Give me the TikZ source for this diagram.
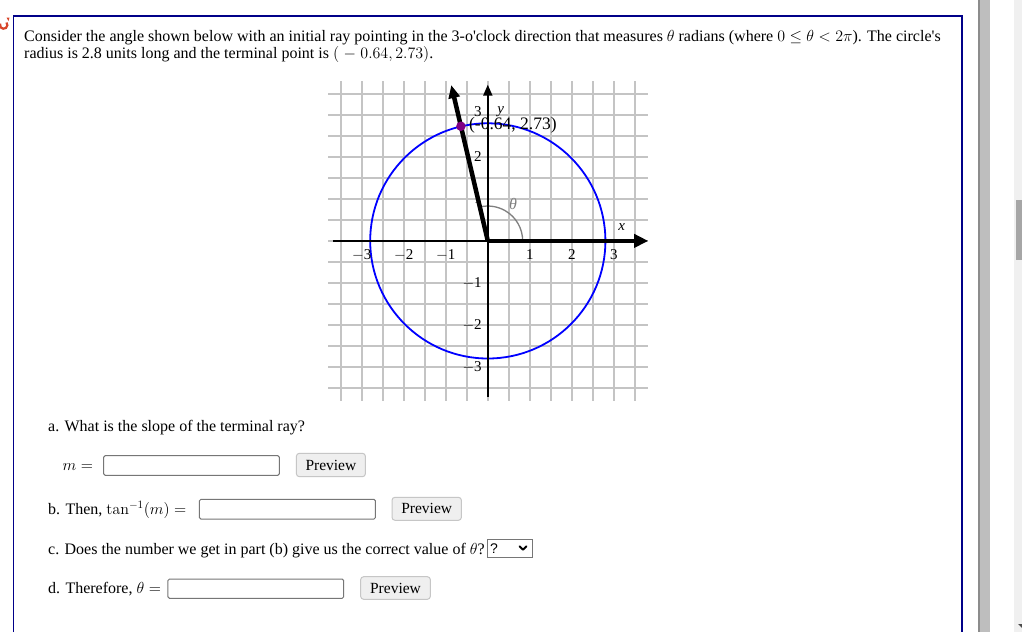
\RequirePackage{fix-cm}
\documentclass[tikz,border=0pt]{standalone}
\usepackage[no-math]{fontspec}
\setmainfont{Liberation Serif}[Ligatures=TeXOff]
\newfontfamily\uisans{Liberation Sans}
\usetikzlibrary{arrows.meta}
\definecolor{framecol}{HTML}{000088}
\definecolor{gridcol}{HTML}{C4C4C4}
\definecolor{circblue}{HTML}{0000FF}
\definecolor{ptpurple}{HTML}{800080}
\definecolor{btnfill}{HTML}{EFEFEF}
\definecolor{btnborder}{HTML}{C6C6C6}
\definecolor{boxborder}{HTML}{767676}
\definecolor{scrollgray}{HTML}{BEBEBE}
\definecolor{scrolledge}{HTML}{8C8C8C}
\definecolor{scrollbg}{HTML}{F0F0F0}
\definecolor{thumbgray}{HTML}{A6A6A6}
\definecolor{anglegray}{HTML}{7F7F7F}
\definecolor{iconred}{HTML}{D8452A}
\tikzset{
  bodytext/.style={anchor=base west, inner sep=0pt, font=\fontsize{16}{19}\selectfont},
  gridline/.style={draw=gridcol, line width=1.6pt},
  ticklab/.style={inner sep=0pt, font=\fontsize{15}{15}\selectfont},
  axislab/.style={inner sep=0pt, font=\fontsize{15}{15}\selectfont\itshape},
  inputbox/.style={draw=boxborder, fill=white, line width=1pt, rounded corners=1.5pt, inner sep=0pt},
  previewbtn/.style={draw=btnborder, fill=btnfill, line width=1pt, rounded corners=3pt, inner sep=0pt, font=\fontsize{15.5}{16}\selectfont},
  thickray/.style={line width=4.5pt, -{Triangle[length=14pt,width=13pt]}},
  thinaxis/.style={line width=1.8pt},
}
\begin{document}
\begin{tikzpicture}[x=1pt,y=-1pt]
\useasboundingbox (0,0) rectangle (1022,632);
\fill[white] (0,0) rectangle (1022,632);
% window chrome
\fill[scrollgray] (978,0) rectangle (990,632);
\fill[scrolledge] (978,0) rectangle (979.5,632);
\fill[scrollbg] (1014,0) rectangle (1022,632);
\fill[thumbgray] (1016,200) rectangle (1022,260);
\fill[black!70] (1018,624) -- (1022,624) -- (1022,628) -- cycle;
\draw[iconred, line width=2.2pt] (6.5,22.5) arc[start angle=-40, end angle=200, radius=3.8];
\fill[iconred] (6.5,17.5) -- (9.5,17.5) -- (8.5,21) -- cycle;
% frame
\draw[framecol, line width=1.3pt] (13.5,632) -- (13.5,16) -- (962,16) -- (962,632);
% intro text
\node[bodytext] (line1) at (24,41) {Consider the angle shown below with an initial ray pointing in the 3-o'clock direction that measures $\theta$ radians (where $0\le\theta<2\pi$). The circle's};
\node[bodytext] (line2) at (24,58) {radius is 2.8 units long and the terminal point is $(\;-\;0.64, 2.73)$.};
% graph
\begin{scope}[shift={(487.8,240.9)}, x=42pt, y=42pt]
  \foreach \k in {-7,...,7} {
    \draw[gridline] (\k*0.5,-3.8) -- (\k*0.5,3.8);
    \draw[gridline] (-3.8,\k*0.5) -- (3.82,\k*0.5);
  }
  \coordinate (O) at (0,0);
  \coordinate (xneg) at (-3.69,0);
  \coordinate (xpos) at (3.82,0);
  \coordinate (yneg) at (0,-3.71);
  \coordinate (ypos) at (0,3.72);
  \coordinate (tend) at (-0.870,3.710);
  \coordinate (arcstart) at (0.83,0);
  \draw[circblue, line width=1.8pt] (O) circle[radius=2.8];
  \draw[anglegray, line width=1.3pt] (arcstart) arc[start angle=0, end angle=103.2, radius=0.83];
  % tick labels
  \foreach \v/\t in {-3/$-$3,-2/$-$2,-1/$-$1,1/1,2/2,3/3}
    \node[ticklab, anchor=north] (xl\v) at (\v,-0.2) {\t};
  \foreach \v/\t in {-3/$-$3,-2/$-$2,-1/$-$1,1/1,2/2}
    \node[ticklab, anchor=east] (yl\v) at (-0.14,\v) {\t};
  \node[ticklab, anchor=east] (yl3) at (-0.14,3.08) {3};
  \node[axislab] (xlab) at (3.19,0.33) {x};
  \node[axislab] (ylab) at (0.31,3.07) {y};
  \node[axislab, text=anglegray, font=\fontsize{16}{16}\selectfont\itshape] (thlab) at (0.6,0.88) {θ};
  % axes and rays
  \draw[thinaxis] (xneg) -- (O);
  \draw[thinaxis, -{Triangle[length=11pt,width=9pt]}] (yneg) -- (ypos);
  \draw[thickray] (O) -- (xpos);
  \draw[thickray, -{Triangle[length=13pt,width=11pt]}] (O) -- (tend);
  \node[circle, fill=ptpurple, inner sep=0pt, minimum size=9.5pt] (P) at (-0.64,2.73) {};
  \node[inner sep=0pt, anchor=west, font=\fontsize{17.5}{17.5}\selectfont] (plab) at (-0.45,2.75) {(-0.64, 2.73)};
\end{scope}
% questions
\node[bodytext] (qa) at (48,431.7) {a. What is the slope of the terminal ray?};
\node[bodytext] (qm) at (62.5,470.5) {$m =$};
\node[inputbox, minimum width=175.7pt, minimum height=19.6pt] (boxA) at (191.5,465.5) {};
\node[previewbtn, minimum width=69pt, minimum height=23.4pt] (btnA) at (330.9,465) {Preview};
\node[bodytext] (qb) at (48,514) {b. Then, $\tan^{-1}(m) =$};
\node[inputbox, minimum width=176pt, minimum height=19.7pt] (boxB) at (287.4,509.2) {};
\node[previewbtn, minimum width=69.4pt, minimum height=23pt] (btnB) at (426.7,508.8) {Preview};
\node[bodytext] (qc) at (48,554) {c. Does the number we get in part (b) give us the correct value of $\theta$?};
\node[draw=boxborder, line width=1pt, minimum width=44.5pt, minimum height=18pt, inner sep=0pt] (sel) at (509.8,548.3) {};
\node[inner sep=0pt, anchor=west, font=\uisans\fontsize{14}{14}\selectfont] (selq) at (490,548.3) {?};
\draw[line width=1.9pt, line cap=round, line join=round] (519.5,546.3) -- (523,549.8) -- (526.5,546.3);
\node[bodytext] (qd) at (48,593.7) {d. Therefore, $\theta =$};
\node[inputbox, minimum width=175.7pt, minimum height=19.3pt] (boxD) at (255.8,588.7) {};
\node[previewbtn, minimum width=69.7pt, minimum height=22.6pt] (btnD) at (395.5,588) {Preview};
\end{tikzpicture}
\end{document}
